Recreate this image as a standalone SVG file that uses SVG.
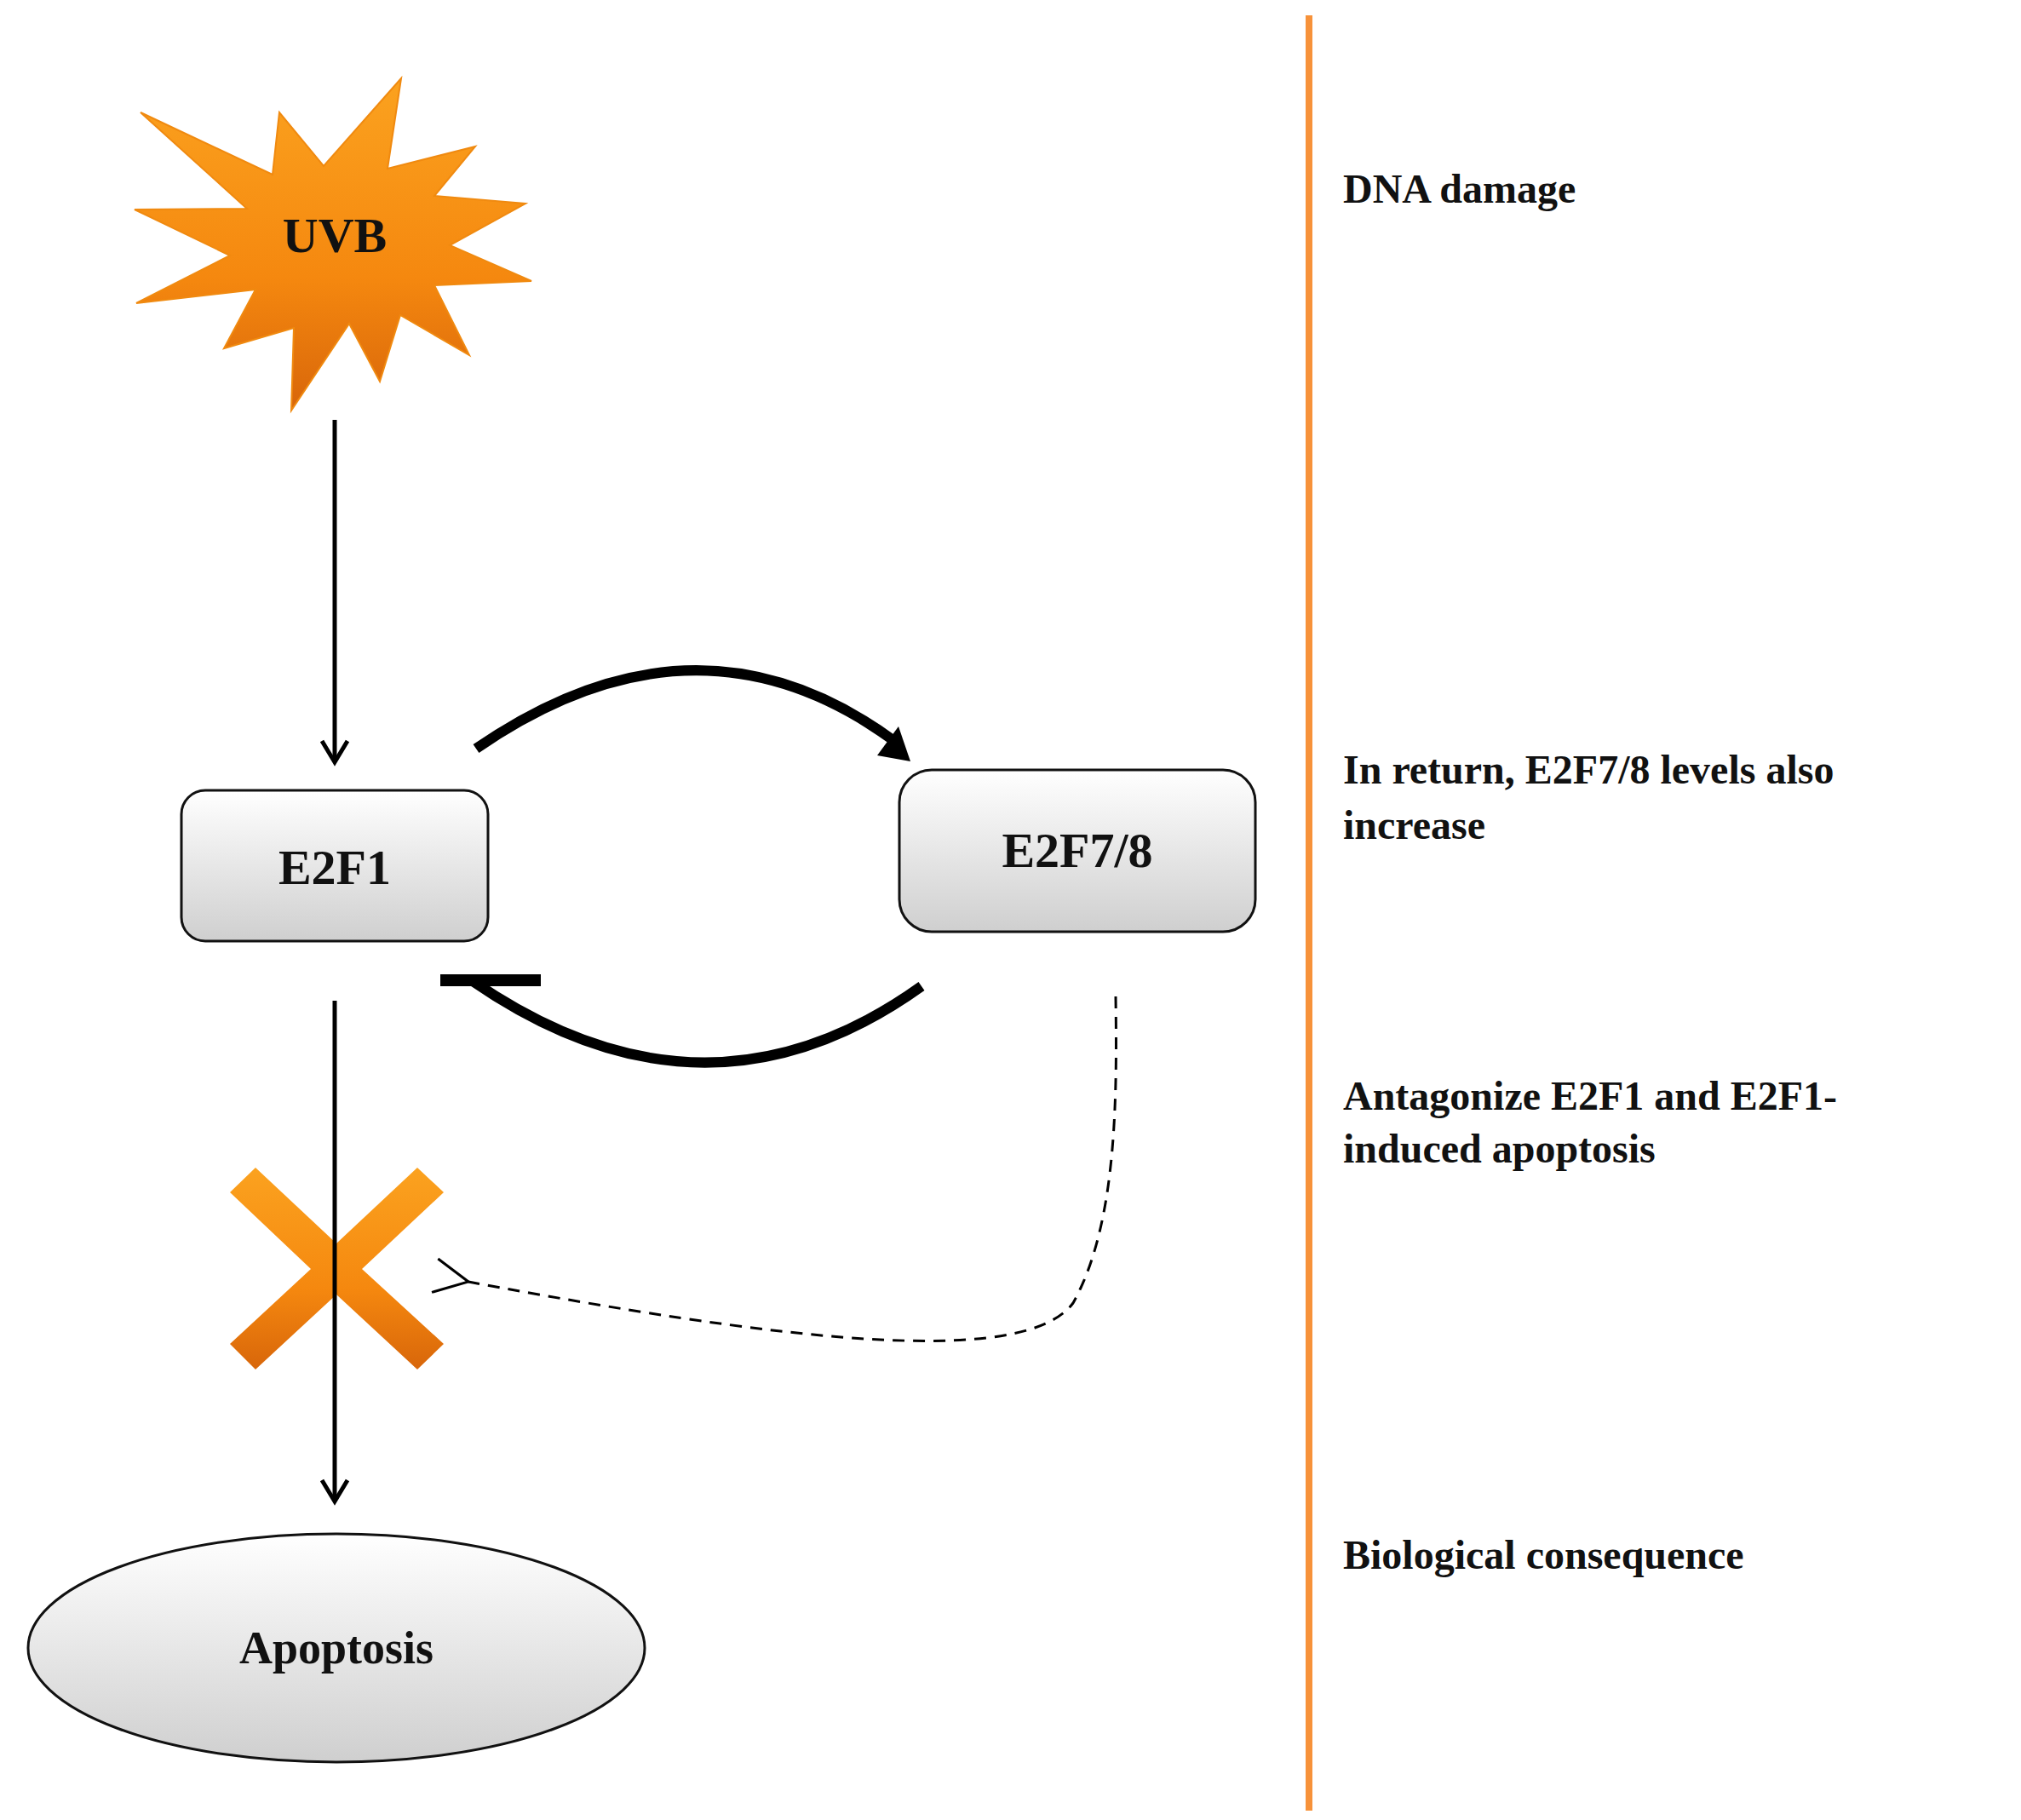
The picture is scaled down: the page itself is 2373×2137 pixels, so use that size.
<svg xmlns="http://www.w3.org/2000/svg" width="2373" height="2137" viewBox="0 0 2373 2137">
<defs>
<style>
.t{font-family:"Liberation Serif","Times New Roman",serif;font-weight:bold;fill:#111}
.box{fill:url(#gb);stroke:#111;stroke-width:3}
.ln{stroke:#000;fill:none}
</style>
<linearGradient id="gb" x1="0" y1="0" x2="0" y2="1"><stop offset="0" stop-color="#ffffff"/><stop offset="1" stop-color="#cfcfcf"/></linearGradient>
<linearGradient id="go" x1="0" y1="0" x2="0" y2="1"><stop offset="0" stop-color="#fba21f"/><stop offset="0.6" stop-color="#f5880f"/><stop offset="1" stop-color="#d8660a"/></linearGradient>
<marker id="ah" viewBox="0 0 10 10" refX="9" refY="5" markerWidth="10" markerHeight="10" markerUnits="userSpaceOnUse" orient="auto"><path d="M0,0 L10,5 L0,10" fill="none"/></marker>
<marker id="open" viewBox="0 0 20 20" refX="2" refY="10" markerWidth="50" markerHeight="50" markerUnits="userSpaceOnUse" orient="auto-start-reverse"><path d="M18,2 L2,10 L18,18" fill="none" stroke="#000" stroke-width="1.2"/></marker>
</defs>
<rect width="2373" height="2137" fill="#fff"/>
<line x1="1537" y1="18" x2="1537" y2="2126" stroke="#f7923a" stroke-width="8"/>
<g id="uvb">
<polygon points="471,92 455,198 558,172 510,230 617,239 528,288 624,330 510,335 551,417 470,370 446,448 410,380 342,482 345,385 263,409 300,340 160,356 270,300 158,246 290,245 165,132 320,205 328,132 380,195" fill="url(#go)" stroke="#f08a10" stroke-width="2"/>
<text class="t" x="393" y="296" font-size="58" text-anchor="middle">UVB</text>
</g>
<g id="e2f1"><rect class="box" x="213" y="928" width="360" height="177" rx="28"/><text class="t" x="393" y="1038" font-size="58" text-anchor="middle">E2F1</text></g>
<g id="e2f78"><rect class="box" x="1056" y="904" width="418" height="190" rx="38"/><text class="t" x="1265" y="1018" font-size="58" text-anchor="middle">E2F7/8</text></g>
<g id="block"><path d="M300,1371 L395,1460 L490,1371 L521,1400 L425,1490 L521,1578 L490,1608 L395,1520 L300,1608 L270,1578 L365,1490 L270,1400 Z" fill="url(#go)"/></g>
<g id="apoptosis"><ellipse cx="395" cy="1935" rx="362" ry="134" fill="url(#gb)" stroke="#111" stroke-width="3"/><text class="t" x="395" y="1953" font-size="54" text-anchor="middle">Apoptosis</text></g>
<g id="connectors">
<line class="ln" x1="393" y1="493" x2="393" y2="895" stroke-width="5"/>
<path d="M378,870 L393,895 L408,870" class="ln" stroke-width="5"/>
<line class="ln" x1="393" y1="1175" x2="393" y2="1763" stroke-width="5"/>
<path d="M378,1738 L393,1763 L408,1738" class="ln" stroke-width="5"/>
<path d="M559,879 Q818,700 1050,870" class="ln" stroke-width="12"/>
<path d="M1069,894 L1030,887 L1055,853 Z" fill="#000"/>
<path d="M1082,1158 Q828,1340 555,1152" class="ln" stroke-width="12"/>
<line x1="517" y1="1151" x2="635" y2="1151" stroke="#000" stroke-width="14"/>
<path d="M1310,1170 C1312,1300 1310,1440 1260,1530 C1200,1610 900,1570 550,1505" class="ln" stroke-width="3" stroke-dasharray="14,10" marker-end="url(#open)"/>
</g>
<g id="labels">
<text class="t" x="1577" y="238" font-size="48">DNA damage</text>
<text class="t" x="1577" y="920" font-size="48">In return, E2F7/8 levels also</text>
<text class="t" x="1577" y="985" font-size="48">increase</text>
<text class="t" x="1577" y="1303" font-size="48">Antagonize E2F1 and E2F1-</text>
<text class="t" x="1577" y="1365" font-size="48">induced apoptosis</text>
<text class="t" x="1577" y="1842" font-size="48">Biological consequence</text>
</g>
</svg>
